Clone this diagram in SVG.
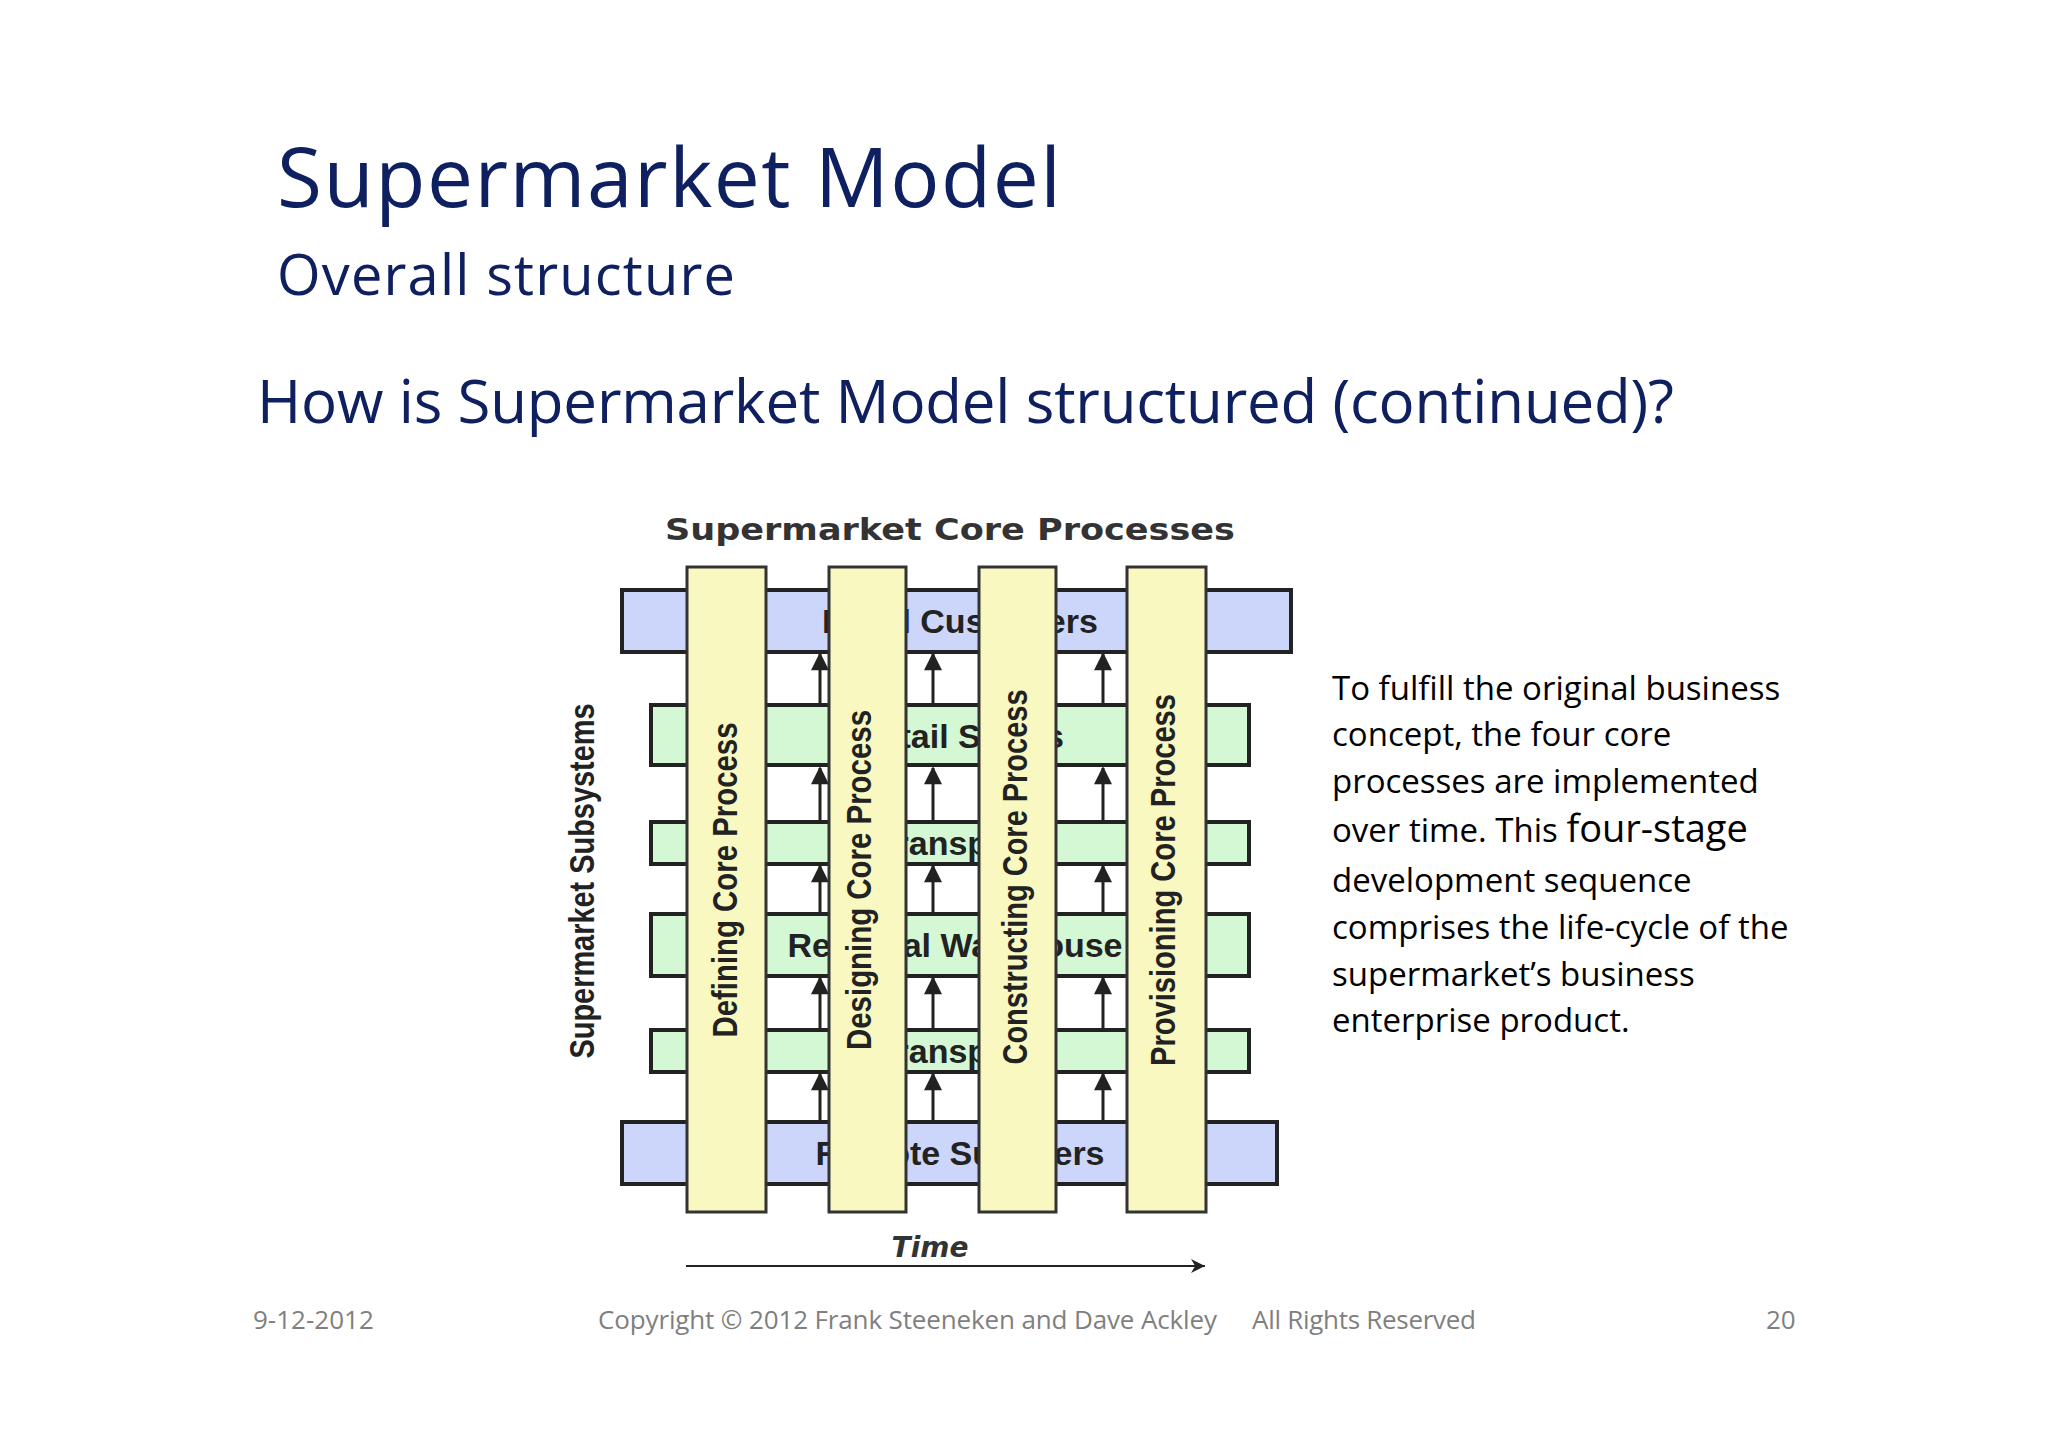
<svg xmlns="http://www.w3.org/2000/svg" width="2048" height="1447" viewBox="0 0 2048 1447">
<style>
.h{font-family:"Open Sans","Liberation Sans",sans-serif;fill:#0f2060}
.body{font-family:"Open Sans","Liberation Sans",sans-serif;font-size:33px;fill:#000}
.ft{font-family:"Open Sans","Liberation Sans",sans-serif;font-size:26px;fill:#7f7f7f}
.blue{fill:#ccd6fa;stroke:#222;stroke-width:4}
.green{fill:#d4f7d4;stroke:#222;stroke-width:4}
.bar{fill:#f8f8c0;stroke:#333;stroke-width:3}
.bl{font-family:"Liberation Sans",Arial,sans-serif;font-weight:bold;font-size:34px;fill:#222;text-anchor:middle}
.vl{font-family:"Liberation Sans",Arial,sans-serif;font-weight:bold;font-size:35px;fill:#222;text-anchor:middle}
.arr{stroke:#222;stroke-width:3;fill:none;marker-end:url(#ah)}
</style>
<defs>
<marker id="ah" viewBox="0 0 10 10" refX="9" refY="5" markerWidth="20" markerHeight="18" orient="auto" markerUnits="userSpaceOnUse">
<path d="M0,0 L10,5 L0,10 z" fill="#222"/>
</marker>
<marker id="ta" viewBox="0 0 10 10" refX="10" refY="5" markerWidth="34" markerHeight="14" orient="auto" markerUnits="userSpaceOnUse">
<path d="M0,0 L10,5 L0,10 L3,5 z" fill="#222"/>
</marker>
</defs>
<rect width="2048" height="1447" fill="#fff"/>
<g id="titles">
<text class="h" x="277" y="207" font-size="82" textLength="784">Supermarket Model</text>
<text class="h" x="277" y="295" font-size="56" textLength="458">Overall structure</text>
<text class="h" x="257" y="423" font-size="60" textLength="1417">How is Supermarket Model structured (continued)?</text>
</g>
<g id="diagram-title">
<text x="950" y="540" font-family="DejaVu Sans,Liberation Sans,sans-serif" font-weight="bold" font-size="31" fill="#333" text-anchor="middle" textLength="570" lengthAdjust="spacingAndGlyphs">Supermarket Core Processes</text>
</g>
<g id="bands">
<g id="local-customers"><rect class="blue" x="622" y="590" width="669" height="62"/><text class="bl" x="960" y="633">Local Customers</text></g>
<g id="retail-stores"><rect class="green" x="651" y="705" width="598" height="60"/><text class="bl" x="960" y="748">Retail Stores</text></g>
<g id="transport-1"><rect class="green" x="651" y="822" width="598" height="42"/><text class="bl" x="955" y="855">Transport</text></g>
<g id="regional-warehouse"><rect class="green" x="651" y="914" width="598" height="62"/><text class="bl" x="955" y="957">Regional Warehouse</text></g>
<g id="transport-2"><rect class="green" x="651" y="1030" width="598" height="42"/><text class="bl" x="955" y="1063">Transport</text></g>
<g id="remote-suppliers"><rect class="blue" x="622" y="1122" width="655" height="62"/><text class="bl" x="960" y="1165">Remote Suppliers</text></g>
</g>
<g id="connectors">
<path class="arr" d="M820 705 V654"/><path class="arr" d="M933 705 V654"/><path class="arr" d="M1103 705 V654"/>
<path class="arr" d="M820 822 V768"/><path class="arr" d="M933 822 V768"/><path class="arr" d="M1103 822 V768"/>
<path class="arr" d="M820 914 V866"/><path class="arr" d="M933 914 V866"/><path class="arr" d="M1103 914 V866"/>
<path class="arr" d="M820 1030 V978"/><path class="arr" d="M933 1030 V978"/><path class="arr" d="M1103 1030 V978"/>
<path class="arr" d="M820 1122 V1074"/><path class="arr" d="M933 1122 V1074"/><path class="arr" d="M1103 1122 V1074"/>
<path d="M686 1266 H1205" stroke="#222" stroke-width="2" marker-end="url(#ta)"/>
</g>
<g id="processes">
<g id="defining"><rect class="bar" x="687" y="567" width="79" height="645"/><text class="vl" transform="translate(737,880) rotate(-90)" textLength="315" lengthAdjust="spacingAndGlyphs">Defining Core Process</text></g>
<g id="designing"><rect class="bar" x="829" y="567" width="77" height="645"/><text class="vl" transform="translate(871,880) rotate(-90)" textLength="340" lengthAdjust="spacingAndGlyphs">Designing Core Process</text></g>
<g id="constructing"><rect class="bar" x="979" y="567" width="77" height="645"/><text class="vl" transform="translate(1027,877) rotate(-90)" textLength="375" lengthAdjust="spacingAndGlyphs">Constructing Core Process</text></g>
<g id="provisioning"><rect class="bar" x="1127" y="567" width="79" height="645"/><text class="vl" transform="translate(1175,880) rotate(-90)" textLength="372" lengthAdjust="spacingAndGlyphs">Provisioning Core Process</text></g>
</g>
<g id="axes">
<text class="vl" transform="translate(594,881) rotate(-90)" textLength="355" lengthAdjust="spacingAndGlyphs">Supermarket Subsystems</text>
<text x="930" y="1257" font-family="DejaVu Sans,Liberation Sans,sans-serif" font-weight="bold" font-style="italic" font-size="28" fill="#333" text-anchor="middle">Time</text>
</g>
<g id="description">
<text class="body" x="1332" y="700">To fulfill the original business</text>
<text class="body" x="1332" y="746">concept, the four core</text>
<text class="body" x="1332" y="793">processes are implemented</text>
<text class="body" x="1332" y="842">over time. This <tspan font-size="38">four-stage</tspan></text>
<text class="body" x="1332" y="892">development sequence</text>
<text class="body" x="1332" y="939">comprises the life-cycle of the</text>
<text class="body" x="1332" y="986">supermarket’s business</text>
<text class="body" x="1332" y="1032">enterprise product.</text>
</g>
<g id="footer">
<text class="ft" x="253" y="1329">9-12-2012</text>
<text class="ft" x="598" y="1329" textLength="619">Copyright © 2012  Frank Steeneken and Dave Ackley</text>
<text class="ft" x="1252" y="1329" textLength="224">All Rights Reserved</text>
<text class="ft" x="1766" y="1329">20</text>
</g>
</svg>
